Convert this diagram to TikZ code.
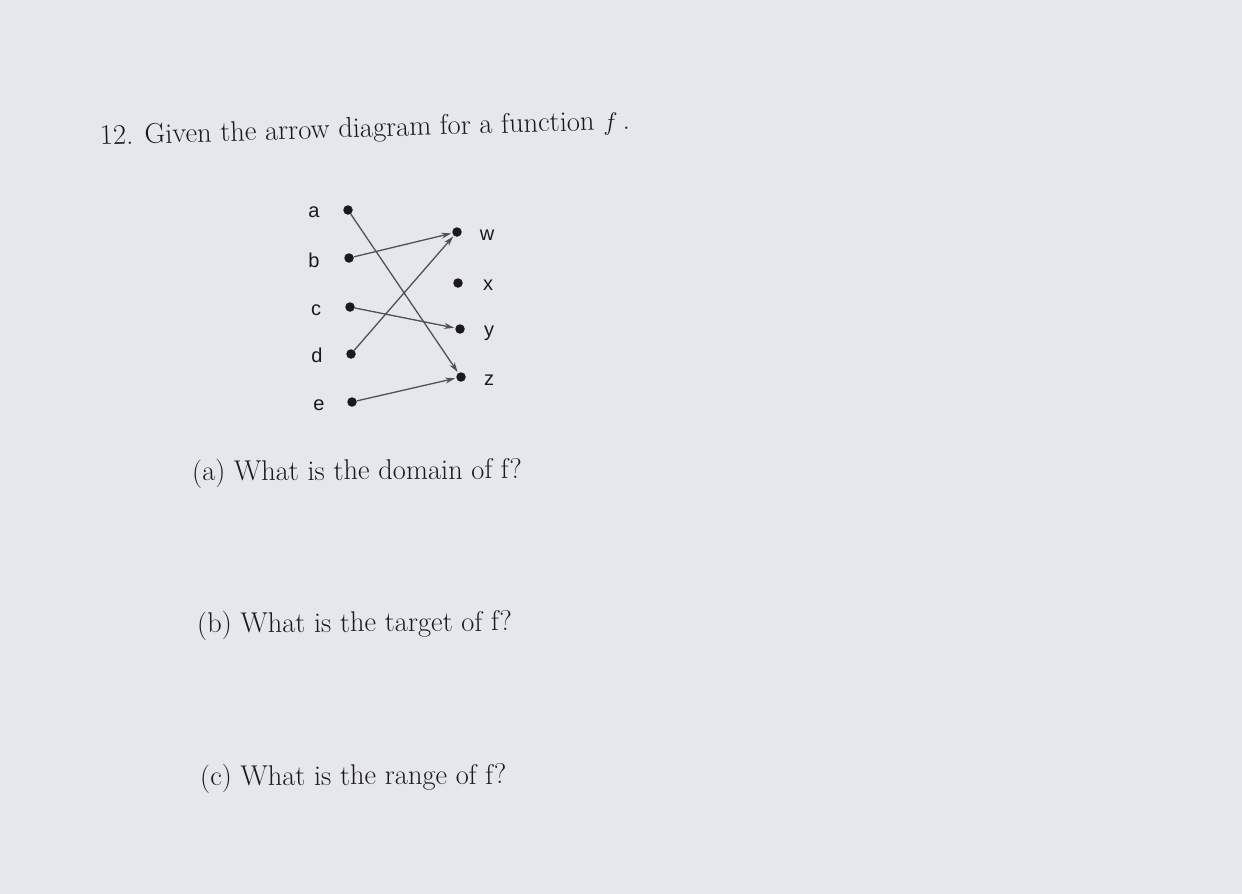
\documentclass[tikz,border=0pt]{standalone}
\usepackage{fontspec}
\newfontfamily\lblfont{Liberation Sans}
\usetikzlibrary{arrows.meta}
\definecolor{paper}{RGB}{230,231,236}
\definecolor{ink}{RGB}{25,25,30}
\definecolor{lineink}{RGB}{80,80,88}
\tikzset{
  pt/.style={circle,fill=ink,inner sep=0pt,minimum size=9.5pt},
  lbl/.style={font=\lblfont\fontsize{20}{24}\selectfont,text=ink,inner sep=0pt},
  txt/.style={font=\fontsize{28.5}{33}\selectfont,text=ink,anchor=base west,inner sep=0pt},
  arr/.style={draw=lineink,line width=1.3pt,-{Stealth[length=10pt,width=6pt]},shorten >=1pt,shorten <=0pt}
}
\begin{document}
\begin{tikzpicture}[x=1pt,y=-1pt]
\fill[paper] (0,0) rectangle (1242,894);
\useasboundingbox (0,0) rectangle (1242,894);
\node[txt,rotate=1.7] (title) at (100,145) {12. Given the arrow diagram for a function $f$\,.};
% left dots
\node[pt] (a) at (348,210) {};
\node[pt] (b) at (349,258) {};
\node[pt] (c) at (350,307) {};
\node[pt] (d) at (351,354) {};
\node[pt] (e) at (352,402) {};
% right dots
\node[pt] (w) at (457,232) {};
\node[pt] (x) at (458,283) {};
\node[pt] (y) at (460,329) {};
\node[pt] (z) at (461,377) {};
% labels
\node[lbl] (la) at (314,212) {a};
\node[lbl] (lb) at (314,260) {b};
\node[lbl] (lc) at (316,310) {c};
\node[lbl] (ld) at (317,355) {d};
\node[lbl] (le) at (319,405) {e};
\node[lbl] (lw) at (487,235) {w};
\node[lbl] (lx) at (488,285) {x};
\node[lbl] (ly) at (489,333) {y};
\node[lbl] (lz) at (489,380) {z};
% arrows
\draw[arr] (a) -- (z);
\draw[arr] (b) -- (w);
\draw[arr] (c) -- (y);
\draw[arr] (d) -- (w);
\draw[arr] (e) -- (z);
% questions
\node[txt,rotate=0.4] (qa) at (192,481) {(a) What is the domain of f?};
\node[txt,rotate=0.4] (qb) at (197,633) {(b) What is the target of f?};
\node[txt,rotate=0.4] (qc) at (200,786) {(c) What is the range of f?};
\end{tikzpicture}
\end{document}
